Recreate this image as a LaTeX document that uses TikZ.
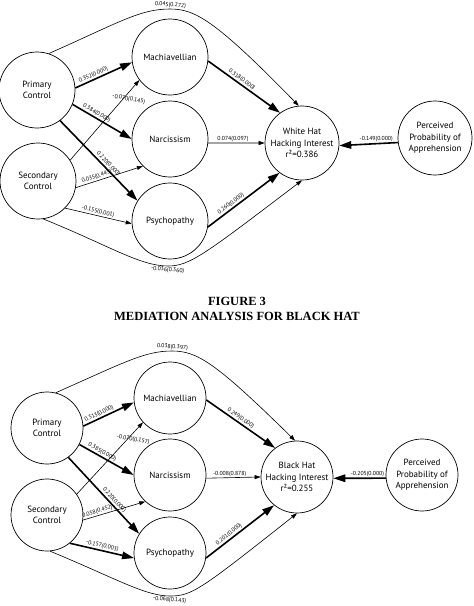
\documentclass[tikz,border=0pt]{standalone}
\usepackage{fontspec}
\setmainfont{Liberation Serif}
\newfontfamily\diagfont{PT Sans}
\usetikzlibrary{arrows.meta}

\begin{document}
\begin{tikzpicture}[x=1pt, y=1pt,
    var/.style={draw, circle, line width=0.7pt, minimum size=76pt, inner sep=0pt, align=center, font=\diagfont\fontsize{9}{11.5}\selectfont},
    weak/.style={line width=0.6pt, -{Triangle[length=6pt, width=4pt]}},
    strong/.style={line width=1.6pt, -{Triangle[length=12pt, width=7.5pt]}},
    coef/.style={font=\diagfont\fontsize{5.8}{6}\selectfont, inner sep=1pt}]

    \useasboundingbox (0,0) rectangle (474,-606);

    % Draw the white hat model
    \node[var] (pc1) at (37,-90) {Primary\\Control};
    \node[var] (sc1) at (38,-181) {Secondary\\Control};
    \node[var] (mach1) at (170,-57) {Machiavellian};
    \node[var] (narc1) at (170,-139) {Narcissism};
    \node[var] (psy1) at (170,-221) {Psychopathy};
    \node[var, minimum size=74pt] (wh) at (302,-143) {White Hat\\Hacking Interest\\r²=0.386};
    \node[var, minimum size=74pt] (ppa1) at (435,-138) {Perceived\\Probability of\\Apprehension};

    \draw[strong] (pc1.3) -- node[coef, sloped, above, pos=0.35] {0.352(0.000)} (mach1.188);
    \draw[strong] (pc1.-22) -- node[coef, sloped, above, pos=0.37] {0.384(0.000)} (narc1.180);
    \draw[strong] (pc1.-53) -- node[coef, sloped, above, pos=0.58] {0.220(0.000)} (psy1.148);
    \draw[weak] (sc1.33) -- node[coef, pos=0.76, xshift=6pt, rotate=-10] {-0.070(0.145)} (mach1.-143);
    \draw[weak] (sc1.-10) -- node[coef, sloped, above, pos=0.33] {0.035(0.443)} (narc1.-135);
    \draw[weak] (sc1.-45) -- node[coef, sloped, above, pos=0.48] {-0.155(0.001)} (psy1.184);
    \draw[strong] (mach1.-6) -- node[coef, sloped, above, pos=0.43] {0.318(0.000)} (wh.126);
    \draw[weak] (narc1.-6) -- node[coef, above, pos=0.44] {0.074(0.097)} (wh.180);
    \draw[strong] (psy1.-9) -- node[coef, sloped, above, pos=0.36] {0.260(0.000)} (wh.-127);
    \draw[strong] (ppa1.187) -- node[coef, above, pos=0.37] {-0.149(0.000)} (wh.-4);

    % Direct paths round the mediators
    \draw[weak] (pc1.72) .. controls (120,-22) and (140,-9) .. (170,-9)
        node[coef, above, rotate=-5] {0.045(0.272)}
        .. controls (195,-9) and (215,-20) .. (wh.95);
    \draw[weak] (sc1.-82) .. controls (110,-246) and (140,-266) .. (168,-266)
        node[coef, below, rotate=-5] {-0.036(0.360)}
        .. controls (190,-266) and (205,-254) .. (wh.-90);

    % Title of the second figure
    \node[font=\bfseries\fontsize{12.5}{15}\selectfont, align=center] (title) at (237,-309) {FIGURE 3\\MEDIATION ANALYSIS FOR BLACK HAT};

    % Draw the black hat model
    \node[var, minimum size=72pt] (pc2) at (47,-428) {Primary\\Control};
    \node[var, minimum size=72pt] (sc2) at (47,-515) {Secondary\\Control};
    \node[var, minimum size=72pt] (mach2) at (170,-398) {Machiavellian};
    \node[var, minimum size=72pt] (narc2) at (170,-475) {Narcissism};
    \node[var, minimum size=72pt] (psy2) at (170,-553) {Psychopathy};
    \node[var, minimum size=72pt] (bh) at (297,-477) {Black Hat\\Hacking Interest\\r²=0.255};
    \node[var, minimum size=72pt] (ppa2) at (422,-475) {Perceived\\Probability of\\Apprehension};

    \draw[strong] (pc2.3) -- node[coef, sloped, above, pos=0.35] {0.313(0.000)} (mach2.187);
    \draw[strong] (pc2.-27) -- node[coef, sloped, above, pos=0.38] {0.385(0.000)} (narc2.180);
    \draw[strong] (pc2.-54) -- node[coef, sloped, above, pos=0.6] {0.220(0.000)} (psy2.148);
    \draw[weak] (sc2.35) -- node[coef, pos=0.76, xshift=6pt, rotate=-10] {-0.070(0.157)} (mach2.-138);
    \draw[weak] (sc2.-8) -- node[coef, sloped, above, pos=0.25] {0.038(0.432)} (narc2.-133);
    \draw[strong] (sc2.-51) -- node[coef, sloped, above, pos=0.49] {-0.157(0.003)} (psy2.188);
    \draw[strong] (mach2.-3) -- node[coef, sloped, above, pos=0.46] {0.249(0.000)} (bh.127);
    \draw[weak] (narc2.-5) -- node[coef, above, pos=0.43] {-0.008(0.878)} (bh.180);
    \draw[strong] (psy2.-8) -- node[coef, sloped, above, pos=0.38] {0.201(0.000)} (bh.-129);
    \draw[strong] (ppa2.185) -- node[coef, above, pos=0.35] {-0.205(0.000)} (bh.-2);

    % Direct paths round the mediators
    \draw[weak] (pc2.76) .. controls (125,-362) and (145,-351) .. (172,-351)
        node[coef, above, rotate=-5] {0.038(0.397)}
        .. controls (197,-351) and (215,-362) .. (bh.93);
    \draw[weak] (sc2.-85) .. controls (115,-578) and (145,-596) .. (170,-596)
        node[coef, below, rotate=-5] {-0.068(0.143)}
        .. controls (192,-596) and (200,-590) .. (bh.-90);

\end{tikzpicture}
\end{document}
